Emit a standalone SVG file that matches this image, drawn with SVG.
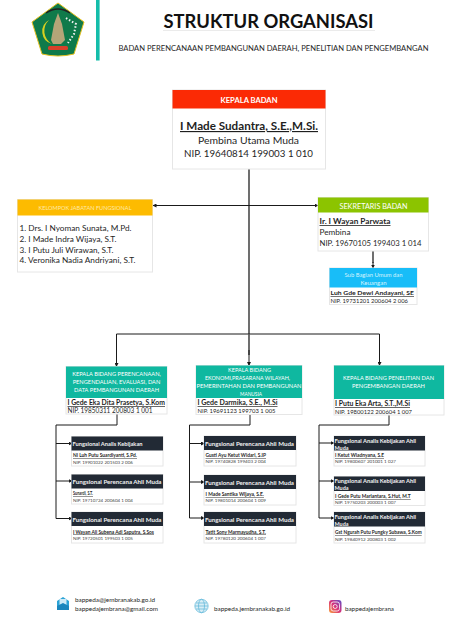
<svg xmlns="http://www.w3.org/2000/svg" width="474" height="632" viewBox="0 0 474 632">
<style>
text{font-family:Lato,"Open Sans","Liberation Sans",sans-serif;fill:#1f1f1f}
.card{fill:#fff;stroke:#e6e6e6;stroke-width:1}
.hd{fill:#fff;text-anchor:middle}
.c{text-anchor:middle}
.name{font-weight:700;text-decoration:underline}
.dark{fill:#222a35}
.teal{fill:#0fb8a0}
.fh{fill:#f2f2f2;font-size:6.200px;font-weight:700}
.fn{font-size:4.700px;font-weight:700;text-decoration:underline}
.fp{font-size:4.500px;fill:#444}
.th{stroke:#555;stroke-width:1.700;fill:none}
.ln{stroke:#1a1a1a;stroke-width:1;fill:none}
.ar{stroke:#1a1a1a;stroke-width:1;fill:none;marker-end:url(#a)}
</style>
<defs>
<marker id="a" markerUnits="userSpaceOnUse" markerWidth="4" markerHeight="4" refX="3.500" refY="2" orient="auto"><path d="M0 0L4 2L0 4z" fill="#1a1a1a"/></marker>
<linearGradient id="ig" x1="0" y1="1" x2="1" y2="0"><stop offset="0" stop-color="#f9a03a"/><stop offset=".5" stop-color="#d8307a"/><stop offset="1" stop-color="#5b4fc8"/></linearGradient>
</defs>
<g id="header">
<g id="logo">
<path d="M58 3L84 22L74 54Q58 58 42 54L32 22Z" fill="#0f7a4a" stroke="#e6c020" stroke-width="1"/>
<path d="M49 20A13 13 0 0 0 52 44A15 15 0 0 1 49 20Z" fill="#d8d020"/>
<path d="M58 13L62 24L65 40L61 44H53L51 40L54 24Z" fill="#b5a578"/>
<path d="M46 13Q58 5 70 13" fill="none" stroke="#222" stroke-width="1.500"/>
<path d="M66 18L76 24L74 34L68 43" fill="none" stroke="#f4f4f4" stroke-width="2" stroke-dasharray="1.500 2"/>
<rect x="48" y="46" width="20" height="4" rx="1.500" fill="#d8402a"/>
</g>
<rect x="96" y="0" width="3.600" height="60.500" fill="#14bdaa"/>
<text x="268.500" y="27.500" class="c" font-size="19" font-weight="700" textLength="210" lengthAdjust="spacingAndGlyphs" style="fill:#111">STRUKTUR ORGANISASI</text>
<line x1="163" y1="30.500" x2="375" y2="30.500" stroke="#ddd" stroke-width=".6"/>
<text x="273.500" y="50.500" class="c" font-size="7.700" textLength="310" lengthAdjust="spacingAndGlyphs">BADAN PERENCANAAN PEMBANGUNAN DAERAH, PENELITIAN DAN PENGEMBANGAN</text>
</g>
<g id="connectors">
<path class="th" d="M249 169V334"/>
<path class="ar" d="M249 205.500H153"/>
<path class="ar" d="M249 205.500H318"/>
<path class="th" d="M373 251V263"/>
<path class="ar" d="M373 262V268"/>
<path class="ln" d="M116.500 334H379.500"/>
<path class="th" d="M249 334V355"/>
<path class="ar" d="M249 350V365.500"/>
<path class="ar" d="M116.500 334V366.500"/>
<path class="ar" d="M379.500 334V365.500"/>
<path class="ln" d="M117 414V425H56V518.500"/>
<path class="ar" d="M56 443.500H72"/><path class="ar" d="M56 481H72"/><path class="ar" d="M56 518.500H72"/>
<path class="ln" d="M250 414.500V425H189.500V518"/>
<path class="ar" d="M189.500 443.500H204.500"/><path class="ar" d="M189.500 482H204.500"/><path class="ar" d="M189.500 518H204.500"/>
<path class="ln" d="M389 415V425H319V518"/>
<path class="ar" d="M319 443H334"/><path class="ar" d="M319 481H334"/><path class="ar" d="M319 518H334"/>
</g>
<g id="kepala-badan" lengthAdjust="spacingAndGlyphs">
<rect class="card" x="172.500" y="90" width="153" height="79"/>
<rect x="172.500" y="90" width="153" height="18.500" fill="#fb2a05"/>
<text class="hd" x="249" y="102.500" font-size="7.800" font-weight="700" textLength="57" lengthAdjust="spacingAndGlyphs">KEPALA BADAN</text>
<text class="c name" x="249" y="130" font-size="11.500" textLength="138" lengthAdjust="spacingAndGlyphs">I Made Sudantra, S.E.,M.Si.</text>
<text class="c" x="248.500" y="143.500" font-size="10.300" textLength="101" lengthAdjust="spacingAndGlyphs">Pembina Utama Muda</text>
<text class="c" x="248.500" y="156.500" font-size="10" textLength="129" lengthAdjust="spacingAndGlyphs">NIP. 19640814 199003 1 010</text>
</g>
<g id="kelompok-jabatan">
<rect class="card" x="17.500" y="199.500" width="135" height="72.500"/>
<rect x="17.500" y="199.500" width="135" height="16" fill="#fdbb00"/>
<text class="hd" x="85" y="210" font-size="5.700" style="fill:#ffe9a8" textLength="93" lengthAdjust="spacingAndGlyphs">KELOMPOK JABATAN FUNGSIONAL</text>
<g font-size="8.400"><text x="19.500" y="231" textLength="112" lengthAdjust="spacingAndGlyphs">1. Drs. I Nyoman Sunata, M.Pd.</text>
<text x="19.500" y="242" textLength="97" lengthAdjust="spacingAndGlyphs">2. I Made Indra Wijaya, S.T.</text>
<text x="19.500" y="252.500" textLength="94" lengthAdjust="spacingAndGlyphs">3. I Putu Juli Wirawan, S.T.</text>
<text x="19.500" y="263" textLength="116" lengthAdjust="spacingAndGlyphs">4. Veronika Nadia Andriyani, S.T.</text></g>
</g>
<g id="sekretaris-badan">
<rect class="card" x="318" y="197.500" width="110.500" height="53.500"/>
<rect x="318" y="197.500" width="110.500" height="15" fill="#8cc400"/>
<text class="hd" x="373.500" y="209" font-size="7.600" textLength="68" lengthAdjust="spacingAndGlyphs">SEKRETARIS BADAN</text>
<text class="name" x="319.500" y="224" font-size="7.900" textLength="71" lengthAdjust="spacingAndGlyphs">Ir. I Wayan Parwata</text>
<text x="319.500" y="235" font-size="7.900" textLength="31" lengthAdjust="spacingAndGlyphs">Pembina</text>
<text x="319.500" y="245.500" font-size="7.900" textLength="102" lengthAdjust="spacingAndGlyphs">NIP. 19670105 199403 1 014</text>
</g>
<g id="sub-bagian">
<rect class="card" x="329.500" y="268" width="87.500" height="36.500"/>
<rect x="329.500" y="268" width="87.500" height="19.500" fill="#18bdf8"/>
<text class="hd" x="373.500" y="276.500" font-size="5.400" style="fill:#d6f3fd" textLength="58" lengthAdjust="spacingAndGlyphs">Sub Bagian Umum dan</text>
<text class="hd" x="373.500" y="284.500" font-size="5.400" style="fill:#d6f3fd" textLength="26" lengthAdjust="spacingAndGlyphs">Keuangan</text>
<text class="name" x="330.500" y="295" font-size="6.200" textLength="83.500" lengthAdjust="spacingAndGlyphs">Luh Gde Dewi Andayani, SE</text>
<text x="330.500" y="303" font-size="5.200" textLength="77.500" lengthAdjust="spacingAndGlyphs">NIP. 19731201 200604 2 006</text>
</g>
<g id="bidang-1">
<rect class="card" x="66" y="366.500" width="101" height="47.500"/>
<rect class="teal" x="66" y="366.500" width="101" height="31.500"/>
<g font-size="5.700"><text class="hd" x="116.500" y="376.300" textLength="88.700" lengthAdjust="spacingAndGlyphs">KEPALA BIDANG PERENCANAAN,</text>
<text class="hd" x="116.500" y="384" textLength="87.700" lengthAdjust="spacingAndGlyphs">PENGENDALIAN, EVALUASI, DAN</text>
<text class="hd" x="116.500" y="392.300" textLength="85" lengthAdjust="spacingAndGlyphs">DATA PEMBANGUNAN DAERAH</text></g>
<text class="name" x="67.500" y="405" font-size="6.700" textLength="97.500" lengthAdjust="spacingAndGlyphs">I Gede Eka Dita Prasetya, S.Kom</text>
<text x="67.500" y="413" font-size="6.700" textLength="85" lengthAdjust="spacingAndGlyphs">NIP. 19850311 200803 1 001</text>
</g>
<g id="bidang-2">
<rect class="card" x="196" y="365.500" width="106" height="49"/>
<rect class="teal" x="196" y="365.500" width="106" height="32.500"/>
<g font-size="5.700"><text class="hd" x="249.500" y="371.800" textLength="43" lengthAdjust="spacingAndGlyphs">KEPALA BIDANG</text>
<text class="hd" x="247.500" y="380" textLength="85" lengthAdjust="spacingAndGlyphs">EKONOMI,PRASARANA WILAYAH,</text>
<text class="hd" x="249" y="388" textLength="105" lengthAdjust="spacingAndGlyphs">PEMERINTAHAN DAN PEMBANGUNAN</text>
<text class="hd" x="251" y="396" textLength="22" lengthAdjust="spacingAndGlyphs">MANUSIA</text></g>
<text class="name" x="197.500" y="405" font-size="6.700" textLength="80" lengthAdjust="spacingAndGlyphs">I Gede Darmika, S.E., M.Si</text>
<text x="197.500" y="413" font-size="6.300" textLength="78" lengthAdjust="spacingAndGlyphs">NIP. 19691123 199703 1 005</text>
</g>
<g id="bidang-3">
<rect class="card" x="334" y="365.500" width="110" height="49.500"/>
<rect class="teal" x="334" y="365.500" width="110" height="33.500"/>
<g font-size="5.700"><text class="hd" x="388.500" y="380.300" textLength="91" lengthAdjust="spacingAndGlyphs">KEPALA BIDANG PENELITIAN DAN</text>
<text class="hd" x="388.500" y="388.300" textLength="73" lengthAdjust="spacingAndGlyphs">PENGEMBANGAN DAERAH</text></g>
<text class="name" x="335" y="406" font-size="6.700" textLength="75" lengthAdjust="spacingAndGlyphs">I Putu Eka Arta, S.T.,M.Si</text>
<text x="335" y="414" font-size="6.300" textLength="77" lengthAdjust="spacingAndGlyphs">NIP. 19800122 200604 1 007</text>
</g>
<g id="fungsional-1a"><rect class="card" x="71.500" y="436.500" width="91.500" height="29.500"/><rect class="dark" x="71.500" y="436.500" width="91.500" height="14"/>
<text class="fh" x="72.500" y="446" textLength="70" lengthAdjust="spacingAndGlyphs">Fungsional Analis Kebijakan</text><text class="fn" x="73" y="457" textLength="64" lengthAdjust="spacingAndGlyphs">Ni Luh Putu Suardiyanti, S.Pd.</text><text class="fp" x="73" y="463.500" textLength="60" lengthAdjust="spacingAndGlyphs">NIP. 19901022 201503 2 006</text></g>
<g id="fungsional-1b"><rect class="card" x="71.500" y="474.500" width="91.500" height="29.500"/><rect class="dark" x="71.500" y="474.500" width="91.500" height="14"/>
<text class="fh" x="72.500" y="484" textLength="89" lengthAdjust="spacingAndGlyphs">Fungsional Perencana Ahli Muda</text><text class="fn" x="73" y="495" textLength="20" lengthAdjust="spacingAndGlyphs">Sunardi, S.T.</text><text class="fp" x="73" y="501.500" textLength="60" lengthAdjust="spacingAndGlyphs">NIP. 19710724 200604 1 004</text></g>
<g id="fungsional-1c"><rect class="card" x="71.500" y="512" width="91.500" height="31"/><rect class="dark" x="71.500" y="512" width="91.500" height="14"/>
<text class="fh" x="72.500" y="521.500" textLength="89" lengthAdjust="spacingAndGlyphs">Fungsional Perencana Ahli Muda</text><text class="fn" x="73" y="533.500" textLength="81" lengthAdjust="spacingAndGlyphs">I Wayan Ali Subena Adi Saputra, S.Sos</text><text class="fp" x="73" y="540" textLength="60" lengthAdjust="spacingAndGlyphs">NIP. 19720501 199503 1 005</text></g>
<g id="fungsional-2a"><rect class="card" x="204" y="436" width="92" height="30"/><rect class="dark" x="204" y="436" width="92" height="14"/>
<text class="fh" x="205" y="445.500" textLength="89" lengthAdjust="spacingAndGlyphs">Fungsional Perencana Ahli Muda</text><text class="fn" x="205.500" y="457" textLength="60.500" lengthAdjust="spacingAndGlyphs">Gusti Ayu Ketut Widari, S.IP</text><text class="fp" x="205.500" y="463" textLength="60.500" lengthAdjust="spacingAndGlyphs">NIP. 19740828 199403 2 004</text></g>
<g id="fungsional-2b"><rect class="card" x="204" y="475" width="92" height="30"/><rect class="dark" x="204" y="475" width="92" height="14"/>
<text class="fh" x="205" y="484.500" textLength="89" lengthAdjust="spacingAndGlyphs">Fungsional Perencana Ahli Muda</text><text class="fn" x="205.500" y="496" textLength="58.500" lengthAdjust="spacingAndGlyphs">I Made Santika Wijaya, S.E.</text><text class="fp" x="205.500" y="502" textLength="60.500" lengthAdjust="spacingAndGlyphs">NIP. 19801014 200604 1 009</text></g>
<g id="fungsional-2c"><rect class="card" x="204" y="512" width="92" height="31"/><rect class="dark" x="204" y="512" width="92" height="14"/>
<text class="fh" x="205" y="521.500" textLength="89" lengthAdjust="spacingAndGlyphs">Fungsional Perencana Ahli Muda</text><text class="fn" x="205.500" y="533.500" textLength="60.500" lengthAdjust="spacingAndGlyphs">Tatit Sony Marmayudha, S.T.</text><text class="fp" x="205.500" y="539.500" textLength="60.500" lengthAdjust="spacingAndGlyphs">NIP. 19780120 200604 1 007</text></g>
<g id="fungsional-3a"><rect class="card" x="334" y="436" width="91" height="30"/><rect class="dark" x="334" y="436" width="91" height="14.500"/>
<text class="fh" x="334.500" y="442.500" textLength="81.500" lengthAdjust="spacingAndGlyphs">Fungsional Analis Kebijakan Ahli</text><text class="fh" x="334.500" y="449.500" textLength="14" lengthAdjust="spacingAndGlyphs">Muda</text><text class="fn" x="335" y="457" textLength="49" lengthAdjust="spacingAndGlyphs">I Ketut Wiadnyana, S.E</text><text class="fp" x="335" y="463" textLength="61" lengthAdjust="spacingAndGlyphs">NIP. 19800607 201001 1 027</text></g>
<g id="fungsional-3b"><rect class="card" x="334" y="476.500" width="91" height="29"/><rect class="dark" x="334" y="476.500" width="91" height="14.500"/>
<text class="fh" x="334.500" y="483" textLength="81.500" lengthAdjust="spacingAndGlyphs">Fungsional Analis Kebijakan Ahli</text><text class="fh" x="334.500" y="490" textLength="14" lengthAdjust="spacingAndGlyphs">Muda</text><text class="fn" x="335" y="498" textLength="75.700" lengthAdjust="spacingAndGlyphs">I Gede Putu Mariantara, S.Hut, M.T</text><text class="fp" x="335" y="504" textLength="61" lengthAdjust="spacingAndGlyphs">NIP. 19750203 200003 1 007</text></g>
<g id="fungsional-3c"><rect class="card" x="334" y="512" width="91" height="31"/><rect class="dark" x="334" y="512" width="91" height="14.500"/>
<text class="fh" x="334.500" y="518.500" textLength="81.500" lengthAdjust="spacingAndGlyphs">Fungsional Analis Kebijakan Ahli</text><text class="fh" x="334.500" y="525.500" textLength="14" lengthAdjust="spacingAndGlyphs">Muda</text><text class="fn" x="335" y="534" textLength="86.700" lengthAdjust="spacingAndGlyphs">Gst Ngurah Putu Pungky Subawa, S.Kom</text><text class="fp" x="335" y="540.500" textLength="61" lengthAdjust="spacingAndGlyphs">NIP. 19840912 200803 1 002</text></g>
<g id="contact">
<g id="icon-mail"><path d="M57 601L63 597L69 601V610H57Z" fill="#2ba3d6"/><rect x="59.500" y="599" width="7" height="6" fill="#cdeaf6"/><path d="M57 606L63 603L69 606V610H57Z" fill="#1a86bd"/></g>
<text x="75" y="602" font-size="6.300" textLength="80" lengthAdjust="spacingAndGlyphs">bappeda@jembranakab.go.id</text>
<text x="75" y="610.500" font-size="6.300" textLength="83" lengthAdjust="spacingAndGlyphs">bappedajembrana@gmail.com</text>
<g id="icon-web" fill="none" stroke="#5cb6d8" stroke-width=".7"><circle cx="201.500" cy="606" r="6.700" fill="#d9eef6"/><ellipse cx="201.500" cy="606" rx="3" ry="6.700"/><path d="M195 606H208M196 603H207M196 609H207"/></g>
<text x="214" y="610.500" font-size="6.300" textLength="76" lengthAdjust="spacingAndGlyphs">bappeda.jembranakab.go.id</text>
<g id="icon-instagram"><rect x="329" y="600" width="12.500" height="13" rx="3" fill="url(#ig)"/><rect x="331" y="602" width="8.500" height="9" rx="2.300" fill="none" stroke="#fff" stroke-width=".8"/><circle cx="335.200" cy="606.500" r="2" fill="none" stroke="#fff" stroke-width=".8"/></g>
<text x="345" y="610.500" font-size="6.300" textLength="49" lengthAdjust="spacingAndGlyphs">bappedajembrana</text>
</g>
</svg>
